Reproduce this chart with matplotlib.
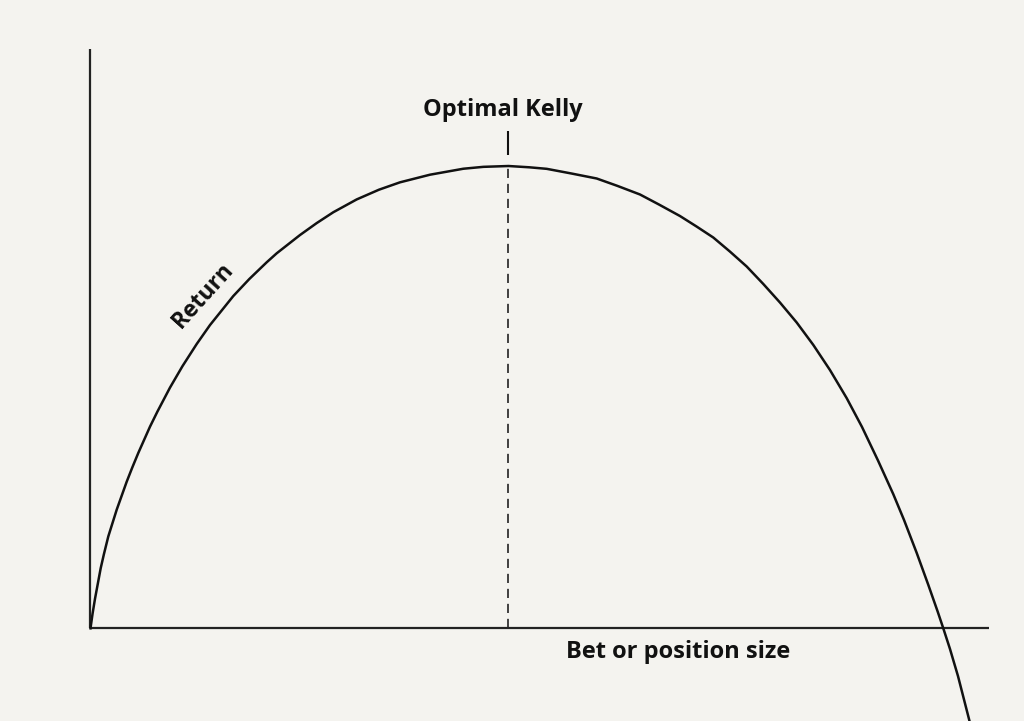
import matplotlib
matplotlib.use("Agg")
import matplotlib.pyplot as plt

plt.rcParams['font.family'] = ['Open Sans', 'DejaVu Sans']

# bet size (1.0 = optimal Kelly) and return (1.0 = peak)
bet_size = [0.0, 0.005, 0.0108, 0.0244, 0.032, 0.0426, 0.0627, 0.0866,
            0.10, 0.1144, 0.1423, 0.16, 0.1902, 0.22, 0.2541, 0.2859,
            0.3416, 0.38, 0.4215, 0.4455, 0.5012, 0.5411, 0.5809, 0.6368,
            0.69, 0.7404, 0.8122, 0.8919, 0.94, 1.0,
            1.05, 1.0914, 1.15, 1.2110, 1.26, 1.3146, 1.36, 1.4103,
            1.4500, 1.4900, 1.5297, 1.5699, 1.6096, 1.6495, 1.6895,
            1.7292, 1.7691, 1.8091, 1.8457, 1.8840, 1.9206, 1.9462,
            1.9766, 2.0043, 2.0268, 2.0402, 2.0562, 2.0754, 2.1029]
growth = [0.0, 0.032, 0.064, 0.130, 0.160, 0.1988, 0.2566, 0.3171,
          0.3479, 0.3794, 0.4361, 0.4686, 0.5207, 0.567, 0.6150, 0.6560,
          0.7187, 0.7556, 0.7917, 0.8112, 0.8507, 0.8765, 0.9000, 0.9277,
          0.9487, 0.9647, 0.9812, 0.9941, 0.9982, 1.0,
          0.9972, 0.9939, 0.9839, 0.9730, 0.9572, 0.9384, 0.9167, 0.8918,
          0.8691, 0.8453, 0.8150, 0.7826, 0.7448, 0.7047, 0.6615,
          0.6130, 0.5587, 0.4979, 0.4356, 0.3630, 0.2901, 0.2345,
          0.1631, 0.0941, 0.0361, 0.0, -0.0446, -0.1034, -0.2005]

kelly_x = 1.0
kelly_y = 1.0

BG = "#f4f3ef"
INK = "#111111"

fig = plt.figure(figsize=(10.24, 7.21), dpi=100, facecolor=BG)
ax = fig.add_axes([0, 0, 1, 1])
ax.set_facecolor(BG)
ax.set_xlim(-0.2165, 2.2333)
ax.set_ylim(-0.2005, 1.3591)
ax.axis("off")

# hand drawn axes
ax.plot([0, 0], [0, 1.2531], color="#222222", lw=1.6, solid_capstyle="butt")
ax.plot([0, 2.1502], [0, 0], color="#222222", lw=1.6, solid_capstyle="butt")

ax.plot(bet_size, growth, color=INK, lw=1.8, solid_joinstyle="round")

ax.plot([kelly_x, kelly_x], [0, kelly_y], color="#222222", lw=1.2,
        linestyle=(0, (5.5, 3.5)))
ax.plot([kelly_x, kelly_x], [1.0238, 1.0757], color=INK, lw=1.5,
        solid_capstyle="butt")

ax.text(0.9868, 1.108, "Optimal Kelly", ha="center", va="baseline",
        fontsize=17, fontweight="bold", color=INK)
ax.text(1.4067, -0.0636, "Bet or position size", ha="center", va="baseline",
        fontsize=17, fontweight="bold", color=INK)
ax.text(0.2691, 0.7188, "Return", ha="center", va="center", rotation=48,
        rotation_mode="anchor", fontsize=16.5, fontweight="bold", color=INK)

plt.savefig("out.png", dpi=100, facecolor=BG)
